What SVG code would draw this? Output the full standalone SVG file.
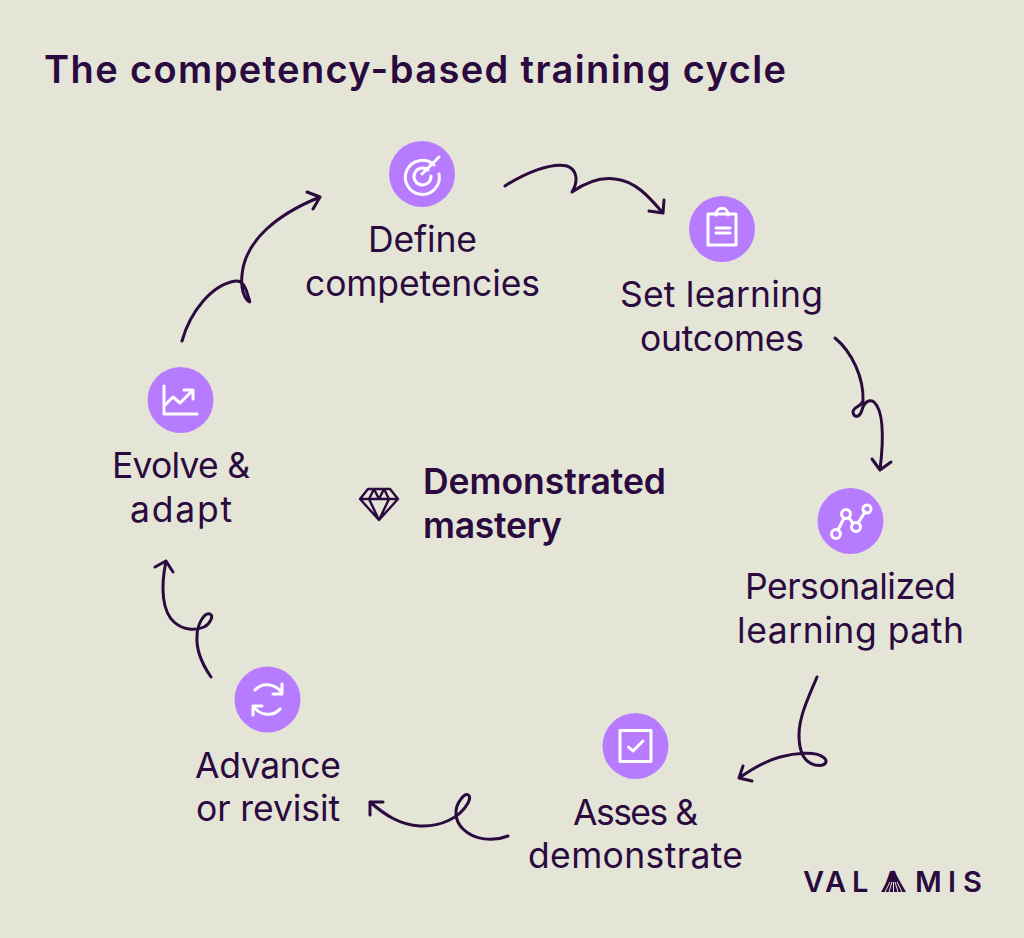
<svg xmlns="http://www.w3.org/2000/svg" width="1024" height="938" viewBox="0 0 1024 938">
<style>
text{font-family:"Inter","Liberation Sans",sans-serif;fill:#2a0a3f}
.t{font-size:35.500px;text-anchor:start}
.h{font-weight:600}
.c{fill:#b77bff}
.i{fill:none;stroke:#fff;stroke-width:3;stroke-linecap:round;stroke-linejoin:round}
.a{fill:none;stroke:#2a0a3f;stroke-width:3;stroke-linecap:round;stroke-linejoin:round}
</style>
<rect width="1024" height="938" fill="#e4e5d6"/>
<text id="title" class="h" x="44" y="83" font-size="38" textLength="742" lengthAdjust="spacing">The competency-based training cycle</text>
<g id="connectors">
<path class="a" d="M505 186C525 173 552 162 567 166C578 170 578 182 572 192C585 183 600 177 615 179C636 181 650 198 663 213M649 211L663 213L664 200"/>
<path class="a" d="M835 338C852 352 864 378 863 401C861 407 853 407 853 412C854 419 860 417 862 410C864 402 869 399 874 402C885 412 883 445 880 470M872 459L880 470L891 462"/>
<path class="a" d="M817 677C807 700 799 718 799 735C799 750 803 762 815 765C826 767 829 761 823 757C815 751 795 753 780 757C765 761 752 769 739 778M752 781L739 778L743 766"/>
<path class="a" d="M508 836C493 842 474 840 463 829C455 821 453 809 461 799C467 791 472 795 468 803C460 818 440 827 420 826C400 825 385 815 370 802M383 802L370 802L370 815"/>
<path class="a" d="M211 677C202 664 196 650 197 636C197 625 204 612 210 614C214 616 210 624 204 627C195 631 183 630 174 622C163 612 160 590 166 561M155 567L166 561L173 572"/>
<path class="a" d="M182 341C190 312 212 284 236 281C243 280 246 288 248 296C251 303 250 303 247 300C243 295 241 285 242 275C245 240 278 214 320 197M307 192L320 197L313 209"/>
</g>
<g id="define">
<circle class="c" cx="422" cy="174" r="33"/>
<g class="i"><path d="M434 165A17 17 0 1 0 439 174"/><path d="M428 170A8.500 8.500 0 1 0 431 176"/><path d="M422 174L439 157"/></g>
<text class="t" x="368" y="252" textLength="109" lengthAdjust="spacing">Define</text><text class="t" x="305" y="296" textLength="235" lengthAdjust="spacing">competencies</text>
</g>
<g id="outcomes">
<circle class="c" cx="722" cy="229" r="33"/>
<g class="i"><path d="M708 214H736V245H708Z"/><path d="M716 215C716 206 728 206 728 215"/><path d="M716 228H730M716 233H730"/></g>
<text class="t" x="620" y="307" textLength="203" lengthAdjust="spacing">Set learning</text><text class="t" x="640" y="351" textLength="164" lengthAdjust="spacing">outcomes</text>
</g>
<g id="path">
<circle class="c" cx="850.500" cy="521" r="33"/>
<g class="i"><circle cx="836" cy="534" r="4.500"/><circle cx="846" cy="514" r="4.500"/><circle cx="856" cy="527" r="4.500"/><circle cx="867" cy="509" r="4"/><path d="M838 530L844 518M849 518L853 523M858 523L865 512"/></g>
<text class="t" x="745" y="599" textLength="211" lengthAdjust="spacing">Personalized</text><text class="t" x="737" y="643" textLength="227" lengthAdjust="spacing">learning path</text>
</g>
<g id="assess">
<circle class="c" cx="635.500" cy="746" r="33"/>
<g class="i"><rect x="620" y="730.500" width="31" height="31"/><path d="M628.500 747L633 751L643 741"/></g>
<text class="t" x="573" y="825" textLength="125" lengthAdjust="spacing">Asses &amp;</text><text class="t" x="528" y="868" textLength="215" lengthAdjust="spacing">demonstrate</text>
</g>
<g id="advance">
<circle class="c" cx="267.500" cy="699.500" r="33"/>
<g class="i"><path d="M255 690C262 682 275 683 282 693M282 684V694L273 694M280 709C273 717 260 716 253 706M253 715V706L262 706"/></g>
<text class="t" x="195" y="778" textLength="146" lengthAdjust="spacing">Advance</text><text class="t" x="196" y="821" textLength="144" lengthAdjust="spacing">or revisit</text>
</g>
<g id="evolve">
<circle class="c" cx="180.500" cy="400" r="33"/>
<g class="i"><path d="M164 386V414H197"/><path d="M165 405L173 397L180 403L192 391M184 390H193V399"/></g>
<text class="t" x="112" y="478" textLength="138" lengthAdjust="spacing">Evolve &amp;</text><text class="t" x="130" y="522" textLength="102" lengthAdjust="spacing">adapt</text>
</g>
<g id="center">
<path d="M368 489H390L398 499L379 520L360 499ZM360 499H398M374 489L369 499L379 520L389 499L384 489L379 499L374 489" fill="none" stroke="#2a0a3f" stroke-width="2.400" stroke-linejoin="round"/>
<text class="h" x="423" y="494" font-size="35.500" textLength="243" lengthAdjust="spacing">Demonstrated</text><text class="h" x="423" y="538" font-size="35.500" textLength="139" lengthAdjust="spacing">mastery</text>
</g>
<g id="logo">
<text font-size="29" font-weight="600" x="803 825 852 882 915 948 963" y="892">VALAMIS</text>
<path d="M893.500 870L906 892H881Z" fill="#2a0a3f"/>
<path d="M889 892L892 882M893.500 892V882M898 892L895 882M885 892L890 882M902 892L897 882" fill="none" stroke="#e4e5d6" stroke-width="1"/>
</g>
</svg>
